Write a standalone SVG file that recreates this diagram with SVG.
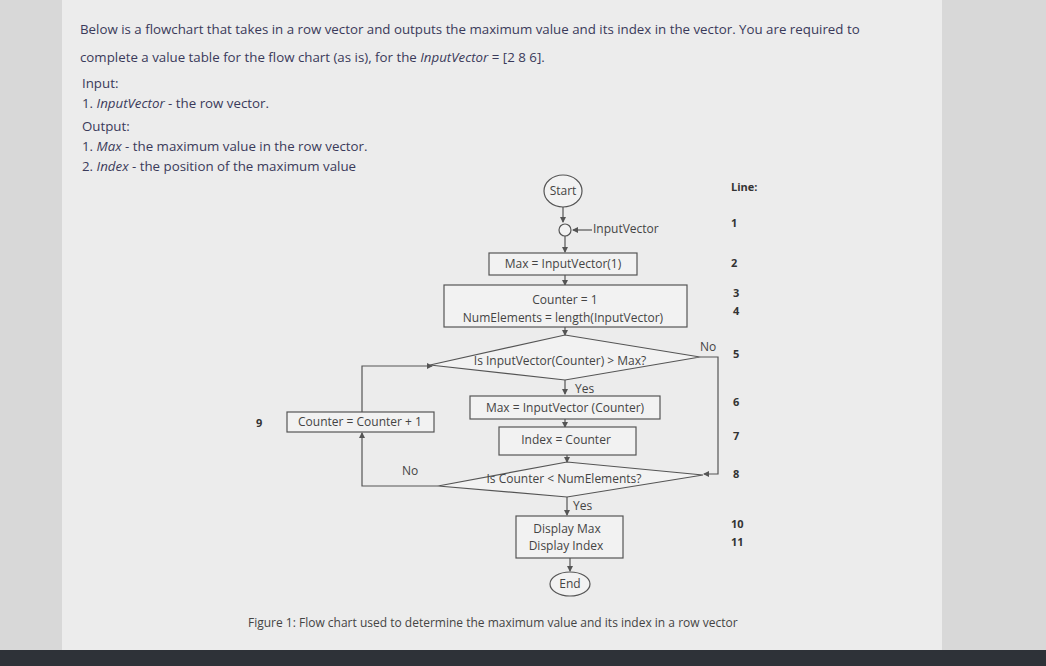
<svg xmlns="http://www.w3.org/2000/svg" width="1046" height="666" viewBox="0 0 1046 666">
<defs>
<marker id="a" viewBox="0 0 6 6" refX="5" refY="3" markerWidth="5" markerHeight="5" orient="auto"><path d="M0,0L6,3L0,6z" fill="#555"/></marker>
</defs>
<style>
text{font-family:"Open Sans","Liberation Sans",sans-serif;fill:#444;font-size:12px}
.n{fill:#f2f2f2;stroke:#555;stroke-width:1.2}
.c{fill:none;stroke:#555;stroke-width:1.2}
.t{fill:#3a3a5a;font-size:13.3px}
.l{font-weight:bold;font-size:11px;fill:#333}
</style>
<rect width="1046" height="666" fill="#d8d8d8"/>
<rect x="62" y="0" width="880" height="650" fill="#ececec"/>
<rect x="0" y="650" width="1046" height="16" fill="#2e3238"/>
<g class="t">
<text x="80" y="34" class="t">Below is a flowchart that takes in a row vector and outputs the maximum value and its index in the vector. You are required to</text>
<text x="80" y="62" class="t">complete a value table for the flow chart (as is), for the <tspan font-style="italic">InputVector</tspan> = [2  8  6].</text>
<text x="82" y="88" class="t">Input:</text>
<text x="82" y="108" class="t">1. <tspan font-style="italic">InputVector</tspan> -  the row vector.</text>
<text x="82" y="131" class="t">Output:</text>
<text x="82" y="151" class="t">1. <tspan font-style="italic">Max</tspan> - the maximum value in the row vector.</text>
<text x="82" y="171" class="t">2. <tspan font-style="italic">Index</tspan> - the position of the maximum value</text>
</g>
<g id="connectors">
<path class="c" d="M563,207V222" marker-end="url(#a)"/>
<path class="c" d="M592,230H573" marker-end="url(#a)"/>
<path class="c" d="M565,236V252" marker-end="url(#a)"/>
<path class="c" d="M565,275V285" marker-end="url(#a)"/>
<path class="c" d="M565,327V335" marker-end="url(#a)"/>
<path class="c" d="M565,380V394" marker-end="url(#a)"/>
<path class="c" d="M565,419V427" marker-end="url(#a)"/>
<path class="c" d="M567,455V462" marker-end="url(#a)"/>
<path class="c" d="M567,497V515" marker-end="url(#a)"/>
<path class="c" d="M570,558V571" marker-end="url(#a)"/>
<path class="c" d="M700,357H718V474H704" marker-end="url(#a)"/>
<path class="c" d="M438,486H362V433" marker-end="url(#a)"/>
<path class="c" d="M362,412V366H432" marker-end="url(#a)"/>
</g>
<g id="start"><ellipse class="n" cx="563" cy="191" rx="19" ry="16"/><text x="563" y="195" text-anchor="middle">Start</text></g>
<g id="input"><circle class="n" cx="565" cy="230" r="6"/><text x="593" y="233">InputVector</text></g>
<g id="n2"><rect class="n" x="489" y="253" width="148" height="22"/><text x="563" y="268" text-anchor="middle">Max = InputVector(1)</text></g>
<g id="n3"><rect class="n" x="444" y="285" width="243" height="42"/><text x="565" y="304" text-anchor="middle">Counter = 1</text><text x="563" y="322" text-anchor="middle">NumElements = length(InputVector)</text></g>
<g id="d1"><path class="n" d="M565,335L700,357L565,380L430,365z"/><text x="560" y="365" text-anchor="middle" font-size="11.5">Is InputVector(Counter) &gt; Max?</text></g>
<g id="n6"><rect class="n" x="470" y="396" width="190" height="23"/><text x="565" y="412" text-anchor="middle">Max = InputVector (Counter)</text></g>
<g id="n7"><rect class="n" x="499" y="427" width="137" height="28"/><text x="566" y="444" text-anchor="middle">Index = Counter</text></g>
<g id="d2"><path class="n" d="M567,462L703,475L567,497L438,486z"/><text x="564" y="483" text-anchor="middle" font-size="11.5">Is Counter &lt; NumElements?</text></g>
<g id="n9"><rect class="n" x="287" y="412" width="147" height="20"/><text x="360" y="426" text-anchor="middle">Counter = Counter + 1</text></g>
<g id="n10"><rect class="n" x="516" y="516" width="107" height="42"/><text x="567" y="533" text-anchor="middle">Display Max</text><text x="566" y="550" text-anchor="middle">Display Index</text></g>
<g id="end"><ellipse class="n" cx="570" cy="584" rx="20" ry="12"/><text x="570" y="588" text-anchor="middle">End</text></g>
<g font-size="11">
<text x="575" y="393">Yes</text>
<text x="573" y="510">Yes</text>
<text x="700" y="351">No</text>
<text x="402" y="475">No</text>
</g>
<g>
<text x="731" y="191" class="l">Line:</text>
<text x="731" y="227" class="l">1</text>
<text x="731" y="267" class="l">2</text>
<text x="733" y="297" class="l">3</text>
<text x="733" y="315" class="l">4</text>
<text x="733" y="358" class="l">5</text>
<text x="733" y="406" class="l">6</text>
<text x="733" y="440" class="l">7</text>
<text x="733" y="478" class="l">8</text>
<text x="731" y="528" class="l">10</text>
<text x="731" y="546" class="l">11</text>
<text x="256" y="427" class="l">9</text>
</g>
<text x="248" y="627" font-size="11.6" fill="#666">Figure 1: Flow chart used to determine the maximum value and its index in a row vector</text>
</svg>
